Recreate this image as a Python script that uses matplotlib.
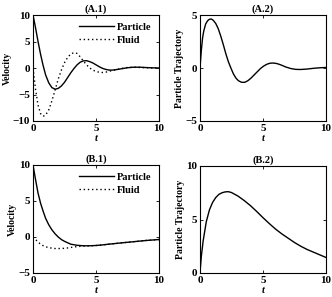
import matplotlib
matplotlib.use("Agg")
import matplotlib.pyplot as plt

plt.rcParams['font.family'] = ['Liberation Serif', 'DejaVu Serif']
plt.rcParams['font.weight'] = 'bold'

# ---- Data ----
tA1 = [0, 0.2, 0.4, 0.6, 0.8, 1.0, 1.25, 1.5, 1.75, 2.0, 2.25, 2.5, 2.75, 3.0, 3.25,
       3.5, 3.75, 4.0, 4.25, 4.5, 4.75, 5.0, 5.25, 5.5, 5.75, 6.0, 6.25, 6.5, 7.0,
       7.5, 8.0, 8.5, 9.0, 9.5, 10]
particleA1 = [10, 7.6, 5.0, 2.6, 0.5, -1.3, -2.8, -3.7, -4.0, -3.85, -3.4, -2.7, -1.8,
              -0.9, -0.1, 0.6, 1.1, 1.35, 1.38, 1.2, 0.95, 0.6, 0.25, -0.05, -0.25,
              -0.38, -0.4, -0.35, -0.15, 0.05, 0.15, 0.15, 0.08, 0.03, 0.0]
fluidA1 = [0, -4.0, -7.0, -8.6, -9.1, -8.9, -7.9, -6.2, -4.2, -2.1, -0.4, 1.0, 2.0,
           2.65, 2.9, 2.75, 2.1, 1.3, 0.6, 0.0, -0.4, -0.65, -0.8, -0.85, -0.8,
           -0.65, -0.5, -0.35, -0.1, 0.1, 0.15, 0.1, 0.05, 0.0, 0.0]

tA2 = [0, 0.1, 0.2, 0.3, 0.45, 0.6, 0.75, 0.9, 1.05, 1.25, 1.45, 1.65, 1.85, 2.05,
       2.25, 2.45, 2.65, 2.85, 3.05, 3.3, 3.55, 3.8, 4.05, 4.3, 4.55, 4.8, 5.05,
       5.3, 5.55, 5.8, 6.1, 6.4, 6.8, 7.2, 7.6, 8.0, 8.5, 9.0, 9.5, 10]
trajA2 = [0, 1.6, 2.8, 3.5, 4.15, 4.45, 4.6, 4.62, 4.5, 4.2, 3.7, 3.0, 2.2, 1.35,
          0.6, 0.0, -0.55, -0.95, -1.2, -1.35, -1.35, -1.2, -0.95, -0.65, -0.35,
          -0.05, 0.18, 0.35, 0.45, 0.47, 0.42, 0.3, 0.1, -0.05, -0.13, -0.14,
          -0.1, -0.03, 0.02, 0.05]

tB1 = [0, 0.2, 0.4, 0.6, 0.8, 1.0, 1.25, 1.5, 1.75, 2.0, 2.25, 2.5, 2.75, 3.0, 3.5,
       4.0, 4.5, 5.0, 5.5, 6.0, 7.0, 8.0, 9.0, 10]
particleB1 = [10, 8.0, 6.1, 4.7, 3.6, 2.6, 1.7, 1.0, 0.45, 0.0, -0.35, -0.6, -0.8,
              -1.0, -1.15, -1.22, -1.22, -1.18, -1.1, -1.0, -0.82, -0.65, -0.48, -0.35]
fluidB1 = [0, -0.35, -0.7, -1.0, -1.2, -1.35, -1.48, -1.55, -1.6, -1.6, -1.6, -1.57,
           -1.52, -1.45, -1.33, -1.26, -1.22, -1.18, -1.1, -1.0, -0.82, -0.65, -0.48, -0.35]

tB2 = [0, 0.1, 0.25, 0.5, 0.75, 1.0, 1.25, 1.5, 1.75, 2.0, 2.25, 2.5, 3.0, 3.5, 4.0,
       4.5, 5.0, 5.5, 6.0, 6.5, 7.0, 7.5, 8.0, 8.5, 9.0, 9.5, 10]
trajB2 = [0, 1.5, 3.0, 4.8, 5.9, 6.6, 7.05, 7.35, 7.5, 7.58, 7.6, 7.52, 7.2, 6.78,
          6.3, 5.75, 5.17, 4.62, 4.1, 3.65, 3.25, 2.85, 2.5, 2.2, 1.95, 1.7, 1.45]

titles = ["(A.1)", "(A.2)", "(B.1)", "(B.2)"]
xticks = [0, 5, 10]
yticksA1 = [-10, -5, 0, 5, 10]
yticksA2 = [-5, 0, 5]
yticksB1 = [-5, 0, 5, 10]
yticksB2 = [0, 5, 10]

# ---- Figure ----
W, H = 332, 297
fig = plt.figure(figsize=(W / 100, H / 100), dpi=100)

def px_axes(x0, x1, y0, y1):
    return fig.add_axes([x0 / W, 1 - y1 / H, (x1 - x0) / W, (y1 - y0) / H])

axA1 = px_axes(33, 159, 15, 121)
axA2 = px_axes(200, 326, 15, 121)
axB1 = px_axes(33, 159, 165, 273)
axB2 = px_axes(200, 326, 166, 273)

fs = 8
def style(ax, title, yticks, ylabel):
    ax.set_xlim(0, 10)
    ax.set_ylim(yticks[0], yticks[-1])
    ax.set_xticks(xticks)
    ax.set_yticks(yticks)
    ax.tick_params(direction='in', length=2.5, width=0.6, top=True, right=True,
                   labelsize=fs, pad=2)
    for lab in ax.get_xticklabels() + ax.get_yticklabels():
        lab.set_fontweight('bold')
    for s in ax.spines.values():
        s.set_linewidth(0.8)
    ax.set_title(title, fontsize=7.5, fontweight='bold', pad=2)
    ax.set_xlabel('t', fontsize=7.5, fontstyle='italic', fontweight='bold', labelpad=1)
    ax.set_ylabel(ylabel, fontsize=7, fontweight='bold', labelpad=1)

lw = 1.0
dots = (0, (1, 2))
axA1.plot(tA1, particleA1, color='black', lw=lw, label='Particle')
axA1.plot(tA1, fluidA1, color='black', lw=1.0, ls=dots, label='Fluid')
style(axA1, titles[0], yticksA1, 'Velocity')

axA2.plot(tA2, trajA2, color='black', lw=lw)
style(axA2, titles[1], yticksA2, 'Particle Trajectory')

axB1.plot(tB1, particleB1, color='black', lw=lw, label='Particle')
axB1.plot(tB1, fluidB1, color='black', lw=1.0, ls=dots, label='Fluid')
style(axB1, titles[2], yticksB1, 'Velocity')

axB2.plot(tB2, trajB2, color='black', lw=lw)
style(axB2, titles[3], yticksB2, 'Particle Trajectory')

for ax in (axA1, axB1):
    leg = ax.legend(loc='upper right', frameon=False, fontsize=7.5, handlelength=3.4,
                    handletextpad=0.3, labelspacing=0.4, borderaxespad=0.3)
    for txt in leg.get_texts():
        txt.set_fontweight('bold')

fig.savefig('out.png', dpi=100)
